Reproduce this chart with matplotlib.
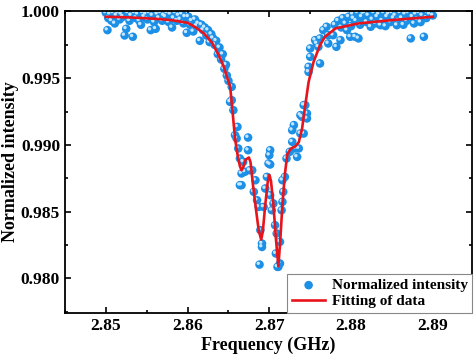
import matplotlib
matplotlib.use('Agg')
import matplotlib.pyplot as plt
import matplotlib.transforms as mtransforms
from matplotlib.ticker import MultipleLocator, FormatStrFormatter

plt.rcParams['font.family'] = ['Liberation Serif', 'DejaVu Serif']
plt.rcParams['font.weight'] = 'bold'

# measured points (frequency in GHz, normalized intensity)
freq = [
    2.8500, 2.8502, 2.8503, 2.8505, 2.8507, 2.8509, 2.8511, 2.8513, 2.8515, 2.8517,
    2.8519, 2.8521, 2.8523, 2.8525, 2.8527, 2.8529, 2.8531, 2.8533, 2.8535, 2.8537,
    2.8539, 2.8541, 2.8543, 2.8545, 2.8547, 2.8549, 2.8551, 2.8553, 2.8555, 2.8557,
    2.8559, 2.8561, 2.8563, 2.8565, 2.8567, 2.8569, 2.8571, 2.8573, 2.8575, 2.8577,
    2.8579, 2.8581, 2.8583, 2.8585, 2.8587, 2.8589, 2.8591, 2.8593, 2.8595, 2.8597,
    2.8599,
    2.8601, 2.8603, 2.8605, 2.8607, 2.8609, 2.8611, 2.8613, 2.8615, 2.8617, 2.8619,
    2.8621, 2.8623, 2.8625, 2.8627, 2.8629, 2.8631, 2.8633, 2.8635, 2.8637, 2.8639,
    2.8641, 2.8643, 2.8645, 2.8647, 2.8648, 2.8650,
    2.8652, 2.8654, 2.8654, 2.8656, 2.8658, 2.8660, 2.8661, 2.8662, 2.8664, 2.8664,
    2.8666, 2.8666, 2.8668, 2.8670, 2.8674, 2.8674, 2.8676, 2.8679, 2.8681, 2.8683,
    2.8685, 2.8687, 2.8688, 2.8689, 2.8691, 2.8691, 2.8693, 2.8695, 2.8697, 2.8699,
    2.8700, 2.8701, 2.8701, 2.8701, 2.8703, 2.8705, 2.8707, 2.8708, 2.8709, 2.8710,
    2.8711, 2.8713, 2.8713, 2.8715, 2.8716, 2.8716, 2.8717, 2.8719, 2.8721, 2.8725,
    2.8728, 2.8728, 2.8730, 2.8732, 2.8734, 2.8736, 2.8738, 2.8738, 2.8740, 2.8742,
    2.8742, 2.8744, 2.8746, 2.8746,
    2.8748, 2.8748, 2.8750, 2.8750, 2.8756, 2.8758, 2.8760, 2.8762, 2.8762, 2.8766,
    2.8770, 2.8772, 2.8772, 2.8778, 2.8782, 2.8787, 2.8795, 2.8799, 2.8803, 2.8805,
    2.8809, 2.8815, 2.8824, 2.8836, 2.8856, 2.8873, 2.8889,
    2.8780, 2.8784, 2.8788, 2.8790, 2.8793, 2.8797, 2.8800, 2.8802, 2.8806, 2.8808,
    2.8811, 2.8813, 2.8817, 2.8819, 2.8821, 2.8826, 2.8828, 2.8830, 2.8832, 2.8834,
    2.8838, 2.8840, 2.8842, 2.8844, 2.8846, 2.8848, 2.8850, 2.8852, 2.8854, 2.8858,
    2.8860, 2.8862, 2.8864, 2.8866, 2.8868, 2.8870, 2.8875, 2.8877, 2.8879, 2.8881,
    2.8883, 2.8885, 2.8887, 2.8892, 2.8896, 2.8900,
]
intensity = [
    0.9999, 0.9986, 0.9995, 0.9998, 0.9993, 0.9999, 0.9991, 0.9997, 0.9999, 0.9994,
    0.9998, 0.9996, 0.9982, 0.9987, 0.9999, 0.9993, 0.9997, 0.9981, 0.9999, 0.9995,
    0.9998, 0.9993, 0.9990, 0.9999, 0.9996, 0.9998, 0.9994, 0.9999, 0.9986, 0.9997,
    0.9992, 0.9987, 0.9998, 0.9995, 0.9999, 0.9993, 0.9997, 0.9996, 0.9999, 0.9992,
    0.9998, 0.9988, 0.9995, 0.9999, 0.9993, 0.9997, 0.9994, 0.9998, 0.9991, 0.9996,
    0.9984,
    0.9996, 0.9990, 0.9993, 0.9985, 0.9994, 0.9989, 0.9991, 0.9978, 0.9990, 0.9986,
    0.9988, 0.9982, 0.9986, 0.9977, 0.9983, 0.9980, 0.9975, 0.9978, 0.9968, 0.9973,
    0.9964, 0.9968, 0.9957, 0.9960, 0.9952, 0.9948,
    0.99322, 0.99435, 0.99335, 0.99260, 0.99073, 0.99048, 0.99135, 0.98973, 0.98898, 0.98698,
    0.98786, 0.98698, 0.98873, 0.98798, 0.99055, 0.98960, 0.98810, 0.98810, 0.98648, 0.98735,
    0.98585, 0.98535, 0.98103, 0.98361, 0.98261, 0.98235, 0.98535, 0.98673, 0.98760, 0.98861,
    0.98923, 0.98960, 0.98853, 0.98623, 0.98510, 0.98561, 0.98398, 0.98186, 0.98336, 0.98086,
    0.98086, 0.98273, 0.98111, 0.98510, 0.98735, 0.98573, 0.98648, 0.98760, 0.98898, 0.98948,
    0.99023, 0.99110, 0.99148, 0.98973, 0.98910, 0.98973, 0.99085, 0.99223, 0.99210, 0.99085,
    0.99298, 0.99298, 0.99235, 0.99198,
    0.99547, 0.99585, 0.99660, 0.99723, 0.99785, 0.99760, 0.99735, 0.99610, 0.99798, 0.99860,
    0.99885, 0.99822, 0.99760, 0.99822, 0.99735, 0.99785, 0.99860, 0.99810, 0.99948, 0.99810,
    0.99798, 0.99985, 0.99885, 0.99897, 0.99897, 0.99798, 0.99810,
    0.9990, 0.9993, 0.9988, 0.9995, 0.9991, 0.9996, 0.9989, 0.9998, 0.9993, 0.9999,
    0.9990, 0.9996, 0.9999, 0.9992, 0.9997, 0.9994, 0.9999, 0.9991, 0.9996, 0.9998,
    0.9993, 0.9999, 0.9989, 0.9996, 0.9998, 0.9992, 0.9999, 0.9995, 0.9997, 0.9993,
    0.9999, 0.9995, 0.9990, 0.9998, 0.9993, 0.9999, 0.9996, 0.9991, 0.9998, 0.9994,
    0.9999, 0.9992, 0.9997, 0.9995, 0.9998, 0.9997,
]

# fitted curve
fit_freq = [
    2.8500, 2.8530, 2.8560, 2.8580, 2.8600, 2.8610, 2.8620, 2.8630, 2.8638, 2.8644,
    2.8648, 2.8652, 2.8655, 2.8658, 2.8661, 2.8664, 2.8666, 2.8668, 2.8671, 2.8675,
    2.8677, 2.8680, 2.8684, 2.8687, 2.8690, 2.8692, 2.8695, 2.8698, 2.8700, 2.8702,
    2.8705, 2.8708, 2.8711, 2.8713, 2.8716, 2.8719, 2.8722, 2.8726, 2.8732, 2.8736,
    2.8740, 2.8744, 2.8748, 2.8754, 2.8762, 2.8768, 2.8781, 2.8809, 2.8850, 2.8900,
]
fit_intensity = [
    0.99960, 0.99955, 0.99945, 0.99935, 0.99915, 0.99880, 0.99835, 0.99765, 0.99672, 0.99590,
    0.99510, 0.99440, 0.99250, 0.99050, 0.98930, 0.98840, 0.98810, 0.98830, 0.98890, 0.98905,
    0.98870, 0.98700, 0.98500, 0.98360, 0.98290, 0.98350, 0.98550, 0.98720, 0.98775, 0.98730,
    0.98550, 0.98300, 0.98090, 0.98250, 0.98550, 0.98780, 0.98930, 0.98970, 0.98990, 0.99020,
    0.99120, 0.99300, 0.99470, 0.99620, 0.99748, 0.99810, 0.99873, 0.99910, 0.99935, 0.99960,
]

fig = plt.figure(figsize=(4.74, 3.57), dpi=100)
ax = fig.add_axes([0.137, 0.124, 0.859, 0.844])

blue = '#1c8fe6'
ax.scatter(freq, intensity, s=38, color=blue, edgecolors='none', zorder=2,
           label='Normalized intensity')
# small highlight on each ball
shift = mtransforms.ScaledTranslation(-0.9 / 72, 0.9 / 72, fig.dpi_scale_trans)
ax.scatter(freq, intensity, s=6, color='#c4e6ff', edgecolors='none', zorder=2,
           transform=ax.transData + shift)
ax.plot(fit_freq, fit_intensity, color='#e8141c', lw=1.9, zorder=3,
        label='Fitting of data')

ax.set_xlim(2.845, 2.8948)
ax.set_ylim(0.97742, 1.000)
ax.xaxis.set_major_locator(MultipleLocator(0.01))
ax.xaxis.set_minor_locator(MultipleLocator(0.005))
ax.yaxis.set_major_locator(MultipleLocator(0.005))
ax.yaxis.set_minor_locator(MultipleLocator(0.0025))
ax.xaxis.set_major_formatter(FormatStrFormatter('%.2f'))
ax.yaxis.set_major_formatter(FormatStrFormatter('%.3f'))
ax.tick_params(which='both', direction='in', top=True, right=True, width=1.2,
               labelsize=12.5)
ax.tick_params(which='major', length=4.5)
ax.tick_params(which='minor', length=2.5)
for sp in ax.spines.values():
    sp.set_linewidth(1.3)

ax.set_xlabel('Frequency (GHz)', fontsize=13, fontweight='bold', labelpad=2)
ax.set_ylabel('Normalized intensity', fontsize=13, fontweight='bold')
ax.yaxis.set_label_coords(-0.112, 0.5)

leg = ax.legend(loc='lower right', fontsize=11, fancybox=False, edgecolor='#888888',
                framealpha=1, borderpad=0.3, handlelength=2.2, handletextpad=0.4,
                labelspacing=0.15, borderaxespad=0.0, scatterpoints=1)
leg.get_frame().set_linewidth(0.8)

fig.savefig('out.png', dpi=100)
